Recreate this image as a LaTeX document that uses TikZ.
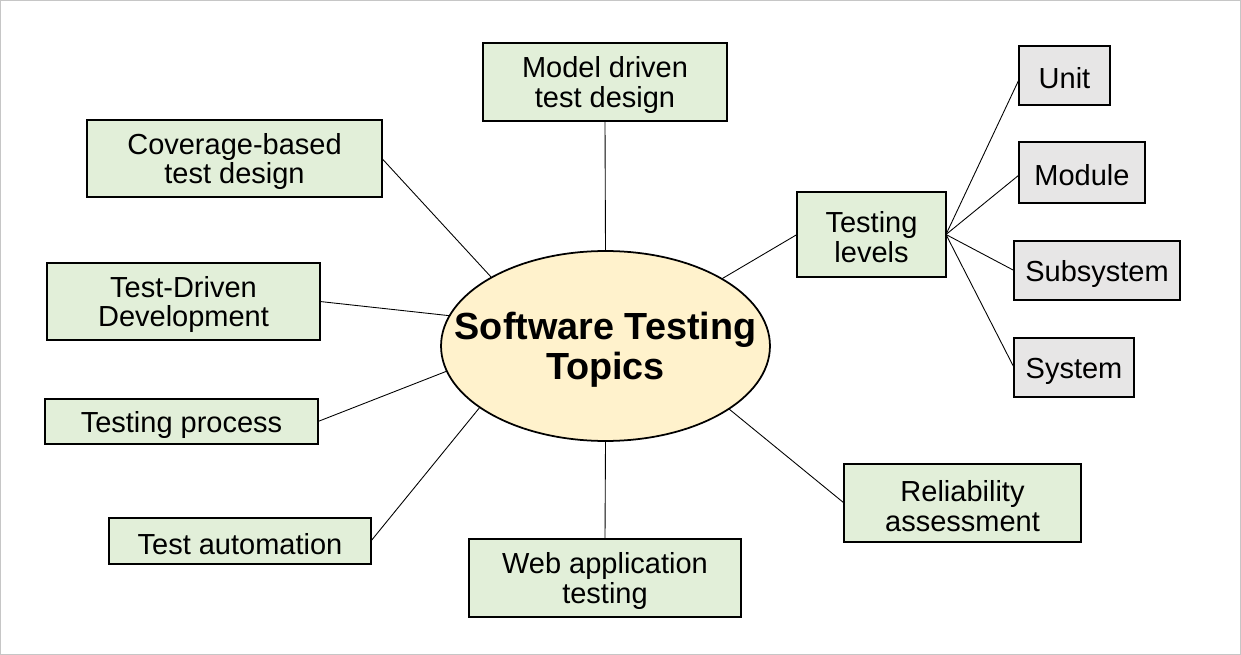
\documentclass[tikz,border=0pt]{standalone}
\usepackage{fontspec}
\setmainfont{Liberation Sans}
\usepackage{tikz}
\usetikzlibrary{shapes.geometric}
\definecolor{topicgreen}{HTML}{E2EFD9}
\definecolor{levelgray}{HTML}{E7E6E6}
\definecolor{centeryellow}{HTML}{FFF2CC}
\tikzset{
  topic/.style n args={2}{
    draw, line width=0.9pt, fill=topicgreen, align=center, outer sep=0pt,
    inner sep=2pt, minimum width=#1cm, minimum height=#2cm, text height=15.4pt,
    font=\fontsize{16.5}{17}\selectfont
  },
  level/.style n args={2}{
    draw, line width=0.9pt, fill=levelgray, align=center, outer sep=0pt,
    inner sep=2pt, minimum width=#1cm, minimum height=#2cm, text height=15.4pt,
    font=\fontsize{16.5}{17}\selectfont
  },
  twolines/.style={text height=32.4pt},
  link/.style={line width=0.5pt}
}

\begin{document}
\begin{tikzpicture}[x=0.02cm, y=-0.02cm]
      \useasboundingbox (0,0) rectangle (1241,655);
      \draw[gray!45, line width=1pt] (0.5,0.5) rectangle (1240.5,654.5);
      % centre
      \node[ellipse, draw, line width=1pt, fill=centeryellow, inner sep=0pt, outer sep=0pt,
            minimum width=6.58cm, minimum height=3.8cm,
            label={[align=center, yshift=-2.2pt, font=\fontsize{21.5}{23}\selectfont\bfseries]center:Software Testing\\Topics}]
            (main) at (605.5,346) {};
      % topics
      \node[topic={4.88}{1.56}, twolines] (model) at (605,82) {Model driven\\test design};
      \node[topic={5.9}{1.54}, twolines] (cover) at (234.5,158.5) {Coverage-based\\test design};
      \node[topic={5.46}{1.54}, twolines] (tdd) at (183.5,301.5) {Test-Driven\\Development};
      \node[topic={5.46}{0.9}] (process) at (181.5,421.5) {Testing process};
      \node[topic={5.24}{0.92}] (auto) at (240,541) {Test automation};
      \node[topic={5.44}{1.56}, twolines] (web) at (605,578) {Web application\\testing};
      \node[topic={4.74}{1.56}, twolines] (rel) at (962.5,503) {Reliability\\assessment};
      \node[topic={2.98}{1.7}, twolines] (levels) at (871.5,234.5) {Testing\\levels};
      % levels
      \node[level={1.82}{1.18}] (unit) at (1064.5,75.5) {Unit};
      \node[level={2.52}{1.22}] (module) at (1082,172.5) {Module};
      \node[level={3.32}{1.18}] (subsys) at (1097,270.5) {Subsystem};
      \node[level={2.4}{1.18}] (system) at (1074,367.5) {System};
      % links
      \draw[link] (main.90) -- (model.south);
      \draw[link] (main.149.4) -- (cover.east);
      \draw[link] (main.169.7) -- (tdd.east);
      \draw[link] (main.189.1) -- (process.east);
      \draw[link] (main.206.3) -- (auto.east);
      \draw[link] (main.270) -- (web.north);
      \draw[link] (main.333.5) -- (rel.west);
      \draw[link] (main.30.6) -- (levels.west);
      \draw[link] (levels.east) -- ([yshift=-0.08cm]unit.west);
      \draw[link] (levels.east) -- ([yshift=-0.05cm]module.west);
      \draw[link] (levels.east) -- (subsys.west);
      \draw[link] (levels.east) -- (system.west);
    \end{tikzpicture}
\end{document}
